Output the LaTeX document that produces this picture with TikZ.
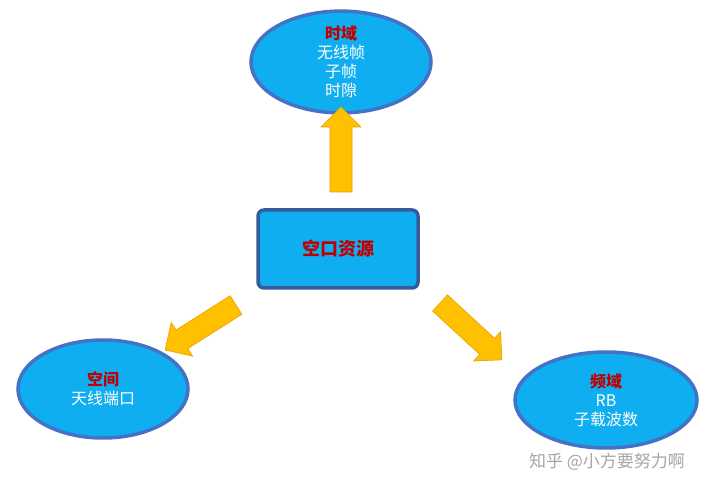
\documentclass[tikz,border=0pt]{standalone}
\usepackage{fontspec}
\setmainfont{Noto Sans CJK SC}
\usetikzlibrary{shapes.geometric}
\definecolor{fillb}{HTML}{0FAEF0}
\definecolor{edgeb}{HTML}{4472C4}
\definecolor{titr}{HTML}{C00000}
\definecolor{arrf}{HTML}{FFC000}
\definecolor{arre}{HTML}{E8A000}
\tikzset{
  bub/.style={ellipse,fill=fillb,draw=edgeb,line width=3.5pt,inner sep=0pt,align=center,text=white,font=\fontsize{16}{19}\selectfont},
  core/.style={rectangle,rounded corners=6pt,fill=fillb,draw=edgeb!80!black,line width=3.5pt,minimum width=160pt,minimum height=78pt,font=\bfseries\fontsize{18}{21}\selectfont,text=titr},
  barrow/.style={fill=arrf,draw=arre,line width=0.6pt}
}
\newcommand\blockarr[3]{%
  \begin{scope}[shift={(#1)},rotate=#2]
    \draw[barrow] (0,-11)--(#3-20,-11)--(#3-20,-20)--(#3,0)--(#3-20,20)--(#3-20,11)--(0,11)--cycle;
  \end{scope}}
\begin{document}
\begin{tikzpicture}[x=1pt,y=1pt]
\useasboundingbox[fill=white] (0,0) rectangle (723,490);
\node[bub,minimum width=180pt,minimum height=90pt] (time) at (341,428) {\textcolor{titr}{\bfseries 时域}\\无线帧\\子帧\\时隙};
\node[bub,minimum width=170pt,minimum height=98pt] (space) at (103,101) {\textcolor{titr}{\bfseries 空间}\\天线端口};
\node[bub,minimum width=182pt,minimum height=96pt] (freq) at (606,90) {\textcolor{titr}{\bfseries 频域}\\RB\\子载波数};
\node[core] (air) at (338,241) {空口资源};
\coordinate (tu) at (341,298);
\coordinate (tl) at (236,185);
\coordinate (tr) at (440,187);
\blockarr{tu}{90}{85}
\blockarr{tl}{212.4}{84}
\blockarr{tr}{-42.6}{84}
\node[text=gray!70,font=\fontsize{17}{20}\selectfont] (wm) at (607,28) {知乎 @小方要努力啊};
\end{tikzpicture}
\end{document}
